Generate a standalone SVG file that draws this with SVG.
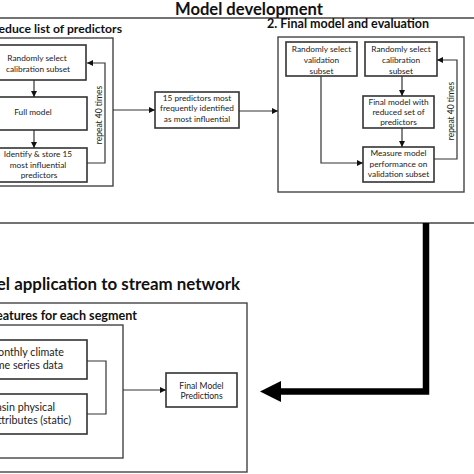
<svg xmlns="http://www.w3.org/2000/svg" width="474" height="474" viewBox="0 0 474 474">
<defs>
<style>
.frame{fill:none;stroke:#444;stroke-width:1.4}
.box{fill:#fff;stroke:#333;stroke-width:1.6}
.ln{fill:none;stroke:#333;stroke-width:1.2}
.t{font-family:Lato,"Liberation Sans",sans-serif;fill:#222;text-anchor:middle}
.s{font-size:8.3px}
.b{font-size:10.7px}
.e{text-anchor:end}
.h{font-family:Lato,"Liberation Sans",sans-serif;font-weight:bold;fill:#111}
</style>
<marker id="ah" viewBox="0 0 10 10" refX="10" refY="5" markerWidth="6" markerHeight="6" markerUnits="userSpaceOnUse" orient="auto">
<path d="M0,0L10,5L0,10z" fill="#111"/>
</marker>
</defs>
<rect width="474" height="474" fill="#fff"/>

<g id="frame-top">
<line class="frame" x1="0" y1="18" x2="474" y2="18"/>
<line class="frame" x1="0" y1="223" x2="474" y2="223"/>
<text class="h" x="249" y="15" font-size="16.6" text-anchor="middle">Model development</text>
</g>

<g id="section1">
<rect class="frame" x="-10" y="38" width="123" height="148"/>
<text class="h" x="122" y="33" font-size="12.2" text-anchor="end">Reduce list of predictors</text>
</g>
<g id="n-calib1">
<rect class="box" x="-12" y="45" width="98" height="35"/>
<text class="t s" x="37" y="61">Randomly select</text>
<text class="t s" x="38" y="72">calibration subset</text>
</g>
<g id="n-full">
<rect class="box" x="-12" y="97" width="99" height="33"/>
<text class="t s" x="33" y="115">Full model</text>
</g>
<g id="n-identify">
<rect class="box" x="-12" y="148" width="99" height="34"/>
<text class="t s" x="38" y="157">Identify &amp; store 15</text>
<text class="t s" x="38" y="167.5">most influential</text>
<text class="t s" x="39" y="178">predictors</text>
</g>

<g id="n-15pred">
<rect class="box" x="155" y="92" width="84" height="36"/>
<text class="t s" x="197" y="100.5">15 predictors most</text>
<text class="t s" x="197" y="111">frequently identified</text>
<text class="t s" x="197" y="121.5">as most influential</text>
</g>

<g id="section2">
<rect class="frame" x="278" y="37" width="186" height="155"/>
<text class="h" x="267" y="28" font-size="12.5" text-anchor="start">2. Final model and evaluation</text>
</g>
<g id="n-valid">
<rect class="box" x="286" y="42" width="71" height="34"/>
<text class="t s" x="321.5" y="52">Randomly select</text>
<text class="t s" x="321.5" y="63">validation</text>
<text class="t s" x="321.5" y="74">subset</text>
</g>
<g id="n-calib2">
<rect class="box" x="365" y="42" width="72" height="34"/>
<text class="t s" x="401" y="52">Randomly select</text>
<text class="t s" x="401" y="63">calibration</text>
<text class="t s" x="401" y="74">subset</text>
</g>
<g id="n-final">
<rect class="box" x="363" y="96" width="71" height="32"/>
<text class="t s" x="398.5" y="104.5">Final model with</text>
<text class="t s" x="398.5" y="114.5">reduced set of</text>
<text class="t s" x="398.5" y="125">predictors</text>
</g>
<g id="n-measure">
<rect class="box" x="363" y="147" width="71" height="35"/>
<text class="t s" x="398.5" y="156">Measure model</text>
<text class="t s" x="398.5" y="166.5">performance on</text>
<text class="t s" x="398.5" y="177">validation subset</text>
</g>

<g id="section3">
<rect class="frame" x="-10" y="303" width="257" height="169"/>
<text class="h" x="240" y="290" font-size="16.9" text-anchor="end">Model application to stream network</text>
<rect class="frame" x="-10" y="325" width="133" height="133"/>
<text class="h" x="137" y="320" font-size="12.6" text-anchor="end">features for each segment</text>
</g>
<g id="n-climate">
<rect class="box" x="-12" y="340" width="99" height="39"/>
<text class="t b e" x="64" y="356">Monthly climate</text>
<text class="t b e" x="63" y="369">time series data</text>
</g>
<g id="n-basin">
<rect class="box" x="-12" y="394" width="99" height="40"/>
<text class="t b e" x="55" y="411">Basin physical</text>
<text class="t b e" x="71" y="424">attributes (static)</text>
</g>
<g id="n-predictions">
<rect class="box" x="166" y="373" width="71" height="34"/>
<text class="t" font-size="8.6" x="201.5" y="388.5">Final Model</text>
<text class="t" font-size="8.6" x="201.5" y="399">Predictions</text>
</g>

<g id="connectors">
<path class="ln" d="M34,80V97" marker-end="url(#ah)"/>
<path class="ln" d="M34,130V148" marker-end="url(#ah)"/>
<path class="ln" d="M87,163H105V63H87" marker-end="url(#ah)"/>
<path class="ln" d="M113,110H155" marker-end="url(#ah)"/>
<path class="ln" d="M239,111H278" marker-end="url(#ah)"/>
<path class="ln" d="M402,76V96" marker-end="url(#ah)"/>
<path class="ln" d="M402,128V147" marker-end="url(#ah)"/>
<path class="ln" d="M321,76V163H363" marker-end="url(#ah)"/>
<path class="ln" d="M434,159H457V60H437" marker-end="url(#ah)"/>
<path class="ln" d="M87,361H106V414H87"/>
<path class="ln" d="M123,390H166" marker-end="url(#ah)"/>
<path d="M426,223V391.5H279" fill="none" stroke="#000" stroke-width="6.5"/>
<path d="M260,391.5L281,381V402z" fill="#000"/>
<text class="t" font-size="8.5" transform="translate(102,115) rotate(-90)">repeat 40 times</text>
<text class="t" font-size="8.5" transform="translate(454,111) rotate(-90)">repeat 40 times</text>
</g>
</svg>
